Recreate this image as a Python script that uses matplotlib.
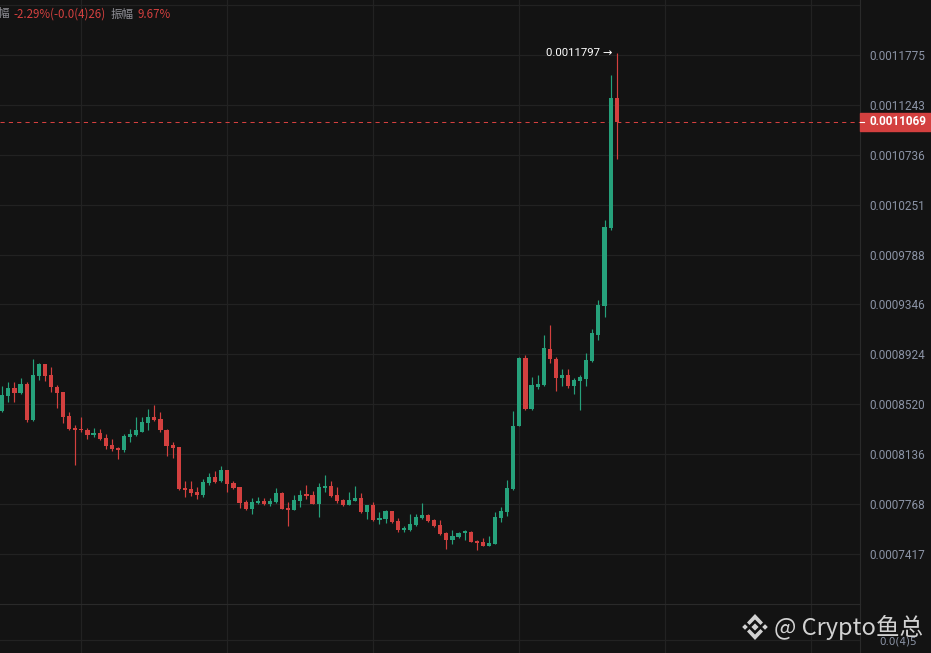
import matplotlib
matplotlib.use('Agg')
import matplotlib.pyplot as plt
from matplotlib.ticker import FixedLocator, FixedFormatter, NullLocator
from matplotlib.patches import Polygon, Rectangle
from matplotlib.transforms import blended_transform_factory

# candle data (price in USDT)
opens = [0.0008465, 0.0008583, 0.0008646, 0.0008607, 0.0008678, 0.0008394, 0.0008750, 0.0008841, 0.0008758, 0.0008654,
         0.0008615, 0.0008425, 0.0008338, 0.0008330, 0.0008323, 0.0008278, 0.0008293, 0.0008256, 0.0008204, 0.0008181,
         0.0008166, 0.0008263, 0.0008278, 0.0008308, 0.0008370, 0.0008417, 0.0008401, 0.0008323, 0.0008204, 0.0008189,
         0.0007883, 0.0007876, 0.0007854, 0.0007833, 0.0007919, 0.0007962, 0.0007934, 0.0008015, 0.0007919, 0.0007890,
         0.0007782, 0.0007732, 0.0007775, 0.0007790, 0.0007768, 0.0007782, 0.0007847, 0.0007739, 0.0007725, 0.0007790,
         0.0007840, 0.0007833, 0.0007768, 0.0007883, 0.0007898, 0.0007833, 0.0007797, 0.0007761, 0.0007790, 0.0007811,
         0.0007710, 0.0007761, 0.0007653, 0.0007660, 0.0007718, 0.0007646, 0.0007582, 0.0007582, 0.0007617, 0.0007667,
         0.0007689, 0.0007653, 0.0007617, 0.0007562, 0.0007514, 0.0007534, 0.0007562, 0.0007569, 0.0007507, 0.0007500,
         0.0007472, 0.0007486, 0.0007667, 0.0007710, 0.0007876, 0.0008354, 0.0008891, 0.0008480, 0.0008654, 0.0008670,
         0.0008966, 0.0008883, 0.0008733, 0.0008758, 0.0008662, 0.0008708, 0.0008725, 0.0008866, 0.0009088, 0.0009329,
         0.0010033, 0.0011316]
highs = [0.0008662, 0.0008694, 0.0008694, 0.0008733, 0.0008694, 0.0008883, 0.0008849, 0.0008845, 0.0008816, 0.0008670,
         0.0008620, 0.0008457, 0.0008362, 0.0008417, 0.0008338, 0.0008338, 0.0008330, 0.0008286, 0.0008248, 0.0008189,
         0.0008286, 0.0008330, 0.0008417, 0.0008417, 0.0008480, 0.0008512, 0.0008457, 0.0008330, 0.0008226, 0.0008192,
         0.0007934, 0.0007934, 0.0007890, 0.0007948, 0.0007991, 0.0008006, 0.0008046, 0.0008018, 0.0007934, 0.0007893,
         0.0007797, 0.0007811, 0.0007818, 0.0007811, 0.0007811, 0.0007883, 0.0007854, 0.0007782, 0.0007833, 0.0007869,
         0.0007905, 0.0007862, 0.0007919, 0.0007977, 0.0007934, 0.0007890, 0.0007804, 0.0007854, 0.0007898, 0.0007847,
         0.0007764, 0.0007782, 0.0007710, 0.0007725, 0.0007721, 0.0007667, 0.0007610, 0.0007696, 0.0007696, 0.0007775,
         0.0007696, 0.0007660, 0.0007653, 0.0007569, 0.0007583, 0.0007569, 0.0007583, 0.0007576, 0.0007514, 0.0007527,
         0.0007541, 0.0007710, 0.0007746, 0.0007941, 0.0008465, 0.0008899, 0.0008916, 0.0008741, 0.0008758, 0.0009082,
         0.0009173, 0.0008899, 0.0008800, 0.0008800, 0.0008733, 0.0008758, 0.0008932, 0.0009132, 0.0009381, 0.0010108,
         0.0011555, 0.0011797]
lows = [0.0008457, 0.0008536, 0.0008536, 0.0008599, 0.0008378, 0.0008390, 0.0008717, 0.0008708, 0.0008615, 0.0008488,
        0.0008370, 0.0008316, 0.0008054, 0.0008301, 0.0008248, 0.0008263, 0.0008244, 0.0008174, 0.0008159, 0.0008099,
        0.0008151, 0.0008226, 0.0008274, 0.0008301, 0.0008316, 0.0008390, 0.0008308, 0.0008121, 0.0008106, 0.0007869,
        0.0007818, 0.0007826, 0.0007804, 0.0007818, 0.0007905, 0.0007919, 0.0007930, 0.0007854, 0.0007876, 0.0007739,
        0.0007725, 0.0007696, 0.0007768, 0.0007761, 0.0007754, 0.0007779, 0.0007729, 0.0007610, 0.0007722, 0.0007746,
        0.0007804, 0.0007765, 0.0007674, 0.0007854, 0.0007818, 0.0007775, 0.0007754, 0.0007758, 0.0007787, 0.0007707,
        0.0007660, 0.0007650, 0.0007624, 0.0007631, 0.0007635, 0.0007569, 0.0007569, 0.0007579, 0.0007610, 0.0007664,
        0.0007643, 0.0007603, 0.0007548, 0.0007452, 0.0007486, 0.0007527, 0.0007514, 0.0007497, 0.0007445, 0.0007469,
        0.0007469, 0.0007483, 0.0007638, 0.0007681, 0.0007872, 0.0008350, 0.0008473, 0.0008476, 0.0008639, 0.0008666,
        0.0008849, 0.0008623, 0.0008662, 0.0008646, 0.0008599, 0.0008473, 0.0008662, 0.0008862, 0.0009040, 0.0009234,
        0.0010014, 0.0010696]
closes = [0.0008591, 0.0008646, 0.0008607, 0.0008678, 0.0008394, 0.0008758, 0.0008841, 0.0008750, 0.0008654, 0.0008607,
          0.0008417, 0.0008330, 0.0008323, 0.0008316, 0.0008278, 0.0008293, 0.0008248, 0.0008196, 0.0008174, 0.0008166,
          0.0008271, 0.0008286, 0.0008316, 0.0008378, 0.0008417, 0.0008394, 0.0008316, 0.0008196, 0.0008181, 0.0007876,
          0.0007869, 0.0007847, 0.0007833, 0.0007926, 0.0007962, 0.0007926, 0.0008015, 0.0007912, 0.0007883, 0.0007775,
          0.0007732, 0.0007782, 0.0007790, 0.0007768, 0.0007790, 0.0007847, 0.0007732, 0.0007725, 0.0007797, 0.0007833,
          0.0007826, 0.0007768, 0.0007890, 0.0007898, 0.0007826, 0.0007790, 0.0007761, 0.0007797, 0.0007811, 0.0007710,
          0.0007761, 0.0007653, 0.0007667, 0.0007718, 0.0007638, 0.0007582, 0.0007596, 0.0007624, 0.0007674, 0.0007689,
          0.0007646, 0.0007610, 0.0007555, 0.0007514, 0.0007541, 0.0007562, 0.0007576, 0.0007500, 0.0007493, 0.0007472,
          0.0007493, 0.0007674, 0.0007718, 0.0007883, 0.0008354, 0.0008891, 0.0008480, 0.0008670, 0.0008678, 0.0008974,
          0.0008883, 0.0008733, 0.0008758, 0.0008662, 0.0008717, 0.0008741, 0.0008874, 0.0009098, 0.0009337, 0.0010043,
          0.0011316, 0.0011069]

price_ticks = [0.0007417, 0.0007768, 0.0008136, 0.0008520, 0.0008924, 0.0009346,
               0.0009788, 0.0010251, 0.0010736, 0.0011243, 0.0011775, 0.0012332]
price_labels = ['0.0007417', '0.0007768', '0.0008136', '0.0008520', '0.0008924', '0.0009346',
                '0.0009788', '0.0010251', '0.0010736', '0.0011243', '0.0011775', '']
grid_candles = [13, 37, 61, 85, 109, 133]

head_label1 = '幅'
head_change = '-2.29%(-0.0(4)26)'
head_label2 = '振幅'
head_amp = '9.67%'
vol_label = '0.0(4)5'
watermark = '@ Crypto鱼总'

BG = '#131313'
GRID = '#222222'
EDGE = '#2a2a2a'
UP = '#26a17b'
DOWN = '#d3403f'
AXTXT = '#8b93a5'
HEADTXT = '#8e8e95'
NUMFONT = ['Roboto', 'DejaVu Sans']
CJKFONT = ['Noto Sans CJK SC', 'DejaVu Sans']

W, H = 931, 653
fig = plt.figure(figsize=(W / 100, H / 100), dpi=100, facecolor=BG)

# main price pane
ax = fig.add_axes([0, 49 / H, 860 / W, 604 / H], facecolor=BG)
ax.set_yscale('log')
ax.set_xlim(-0.378, 141.0)
ax.set_ylim(0.0007081, 0.0012391)

x = list(range(len(opens)))
cols = [UP if c >= o else DOWN for o, c in zip(opens, closes)]
bottoms = [min(o, c) for o, c in zip(opens, closes)]
heights = [abs(c - o) for o, c in zip(opens, closes)]
ax.vlines(x, lows, highs, colors=cols, lw=0.85, zorder=3)
ax.bar(x, heights, bottom=bottoms, width=0.68, color=cols, linewidth=0, zorder=4)

ax.yaxis.tick_right()
ax.yaxis.set_major_locator(FixedLocator(price_ticks))
ax.yaxis.set_major_formatter(FixedFormatter(price_labels))
ax.yaxis.set_minor_locator(NullLocator())
ax.xaxis.set_major_locator(FixedLocator(grid_candles))
ax.xaxis.set_minor_locator(NullLocator())
ax.tick_params(axis='y', length=0, pad=7, labelsize=8.5, labelcolor=AXTXT)
ax.tick_params(axis='x', length=0, labelbottom=False)
for lab in ax.get_yticklabels():
    lab.set_family(NUMFONT)
ax.grid(True, color=GRID, lw=0.9)
ax.set_axisbelow(True)
for side in ['top', 'left', 'bottom']:
    ax.spines[side].set_visible(False)
ax.spines['right'].set_color(EDGE)

# last price line and tag
last = closes[-1]
ax.axhline(last, color=DOWN, lw=0.75, ls=(0, (4, 4)), zorder=2)
bt = blended_transform_factory(ax.transAxes, ax.transData)
f = 1.00837
ax.add_patch(Rectangle((1.0, last / f), 71 / 860, last * f - last / f, transform=bt,
                       color=DOWN, clip_on=False, zorder=5))
ax.plot([1.0, 1.0 + 4 / 860], [last, last], transform=bt, color='white', lw=0.8,
        clip_on=False, zorder=6)
ax.text(1.0 + 9 / 860, last, f'{last:.7f}', transform=bt, ha='left', va='center',
        color='white', fontsize=8.5, weight='bold', family=NUMFONT, zorder=6)

# highest price marker
hi = highs.index(max(highs))
ax.annotate(f'{highs[hi]:.7f} →', xy=(hi, highs[hi]), xytext=(-3, 0),
            textcoords='offset points', ha='right', va='center', color='white',
            fontsize=8.2, family=NUMFONT, zorder=6)

# lower (volume) pane
ax2 = fig.add_axes([0, 0, 860 / W, 49 / H], facecolor=BG)
ax2.set_xlim(-0.378, 141.0)
ax2.set_ylim(0, 1)
ax2.xaxis.set_major_locator(FixedLocator(grid_candles))
ax2.yaxis.tick_right()
ax2.yaxis.set_major_locator(FixedLocator([0.265]))
ax2.yaxis.set_major_formatter(FixedFormatter([vol_label]))
ax2.tick_params(axis='y', length=0, pad=14, labelsize=7.5, labelcolor=AXTXT)
ax2.tick_params(axis='x', length=0, labelbottom=False)
ax2.grid(True, color=GRID, lw=0.9)
for side in ['left', 'bottom']:
    ax2.spines[side].set_visible(False)
ax2.spines['top'].set_color(EDGE)
ax2.spines['right'].set_color(EDGE)

# overlay in pixel coordinates for header and watermark
ov = fig.add_axes([0, 0, 1, 1], facecolor='none')
ov.set_xlim(0, W)
ov.set_ylim(H, 0)
ov.axis('off')
ov.text(-3, 14, head_label1, color=HEADTXT, fontsize=8.3, va='center', family=CJKFONT)
ov.text(13, 14, head_change, color=DOWN, fontsize=8.3, va='center', family=CJKFONT)
ov.text(111, 14, head_label2, color=HEADTXT, fontsize=8.3, va='center', family=CJKFONT)
ov.text(138, 14, head_amp, color=DOWN, fontsize=8.3, va='center', family=CJKFONT)

WM = '#d2d2d2'
cx, cy = 755, 627


def diamond(x0, y0, r):
    return Polygon([(x0, y0 - r), (x0 + r, y0), (x0, y0 + r), (x0 - r, y0)],
                   closed=True, color=WM, lw=0)


ov.add_patch(diamond(cx, cy, 3.6))
ov.add_patch(diamond(cx - 10, cy, 2.8))
ov.add_patch(diamond(cx + 10, cy, 2.8))
for s in (-1, 1):
    ov.add_patch(Polygon([(cx - 8, cy + s * 4.5), (cx, cy + s * 13), (cx + 8, cy + s * 4.5),
                          (cx + 5.5, cy + s * 2), (cx, cy + s * 7.5), (cx - 5.5, cy + s * 2)],
                         closed=True, color=WM, lw=0))
ov.text(774, 627, watermark, color=WM, fontsize=17, va='center', ha='left', family=CJKFONT)

fig.savefig('out.png', dpi=100, facecolor=BG)
